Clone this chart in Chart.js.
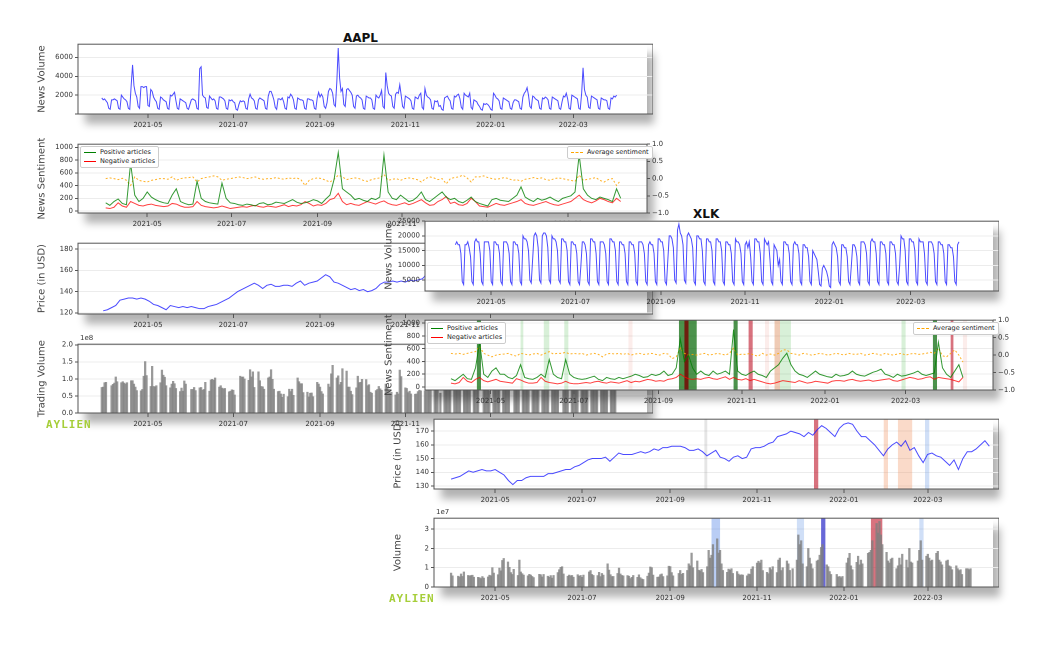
<!DOCTYPE html>
<html>
<head>
<meta charset="utf-8">
<script src="https://cdn.jsdelivr.net/npm/chart.js@4"></script>
<style>
body{margin:0;background:#fff;font-family:"DejaVu Sans",sans-serif;}
#wrap{position:relative;width:1060px;height:661px;overflow:hidden;}
.box{position:absolute;background:#fff;box-shadow:7px 10px 8px rgba(0,0,0,0.3);}
canvas{position:absolute;}
.t{position:absolute;font-weight:bold;font-size:12px;color:#111;}
.lg{position:absolute;background:#fff;border:1px solid #ccc;border-radius:2px;font-size:6.5px;color:#222;padding:1px 3px;line-height:9px;}
.lg i{display:inline-block;width:12px;height:0;border-top:1px solid;vertical-align:middle;margin-right:4px;}
.ex{position:absolute;font-size:7px;color:#333;}
.ay{position:absolute;font-family:"DejaVu Sans Mono",monospace;font-weight:bold;font-size:11px;letter-spacing:1px;color:#a6ce39;}
</style>
</head>
<body>
<div id="wrap"></div>
<script>
// day 0 = 2021-04-01
var monthTicks = [30, 91, 153, 214, 275, 334];
var monthLabels = ['2021-05', '2021-07', '2021-09', '2021-11', '2022-01', '2022-03'];

// AAPL news volume, daily, hundreds, weeks Mon..Sun from 2021-03-29
var aaplNews = [
17,15,16,14,12,6,5, 15,15,16,15,14,6,5, 20,18,16,15,13,6,5, 30,52,30,22,18,8,6,
29,29,28,29,29,9,8, 26,24,18,15,13,6,5, 18,17,15,14,13,6,5, 20,19,21,23,14,6,5,
16,15,14,13,12,6,5, 10,15,16,15,14,6,5, 48,50,20,18,17,7,6, 19,17,15,16,14,6,5,
18,18,17,16,14,6,5, 15,14,15,13,12,5,4, 10,14,13,14,13,6,5, 16,21,17,16,14,6,5,
15,17,16,15,14,6,5, 19,24,24,20,15,7,5, 16,16,15,17,13,6,5, 18,17,21,19,15,6,5,
17,16,15,15,14,6,5, 16,16,15,15,14,6,5, 17,23,18,21,18,8,6, 12,24,27,26,22,10,8,
34,70,38,24,27,10,8, 26,27,25,23,20,8,6, 19,20,18,17,15,6,5, 19,18,17,17,15,6,5,
20,18,17,20,25,8,6, 44,30,22,20,19,8,6, 21,23,22,31,20,8,6, 19,18,17,16,14,6,5,
18,17,16,20,22,7,5, 27,20,18,17,15,6,5, 14,13,14,8,9,5,4, 17,18,19,16,14,6,5,
19,18,20,21,16,7,5, 22,20,19,18,22,7,5, 15,14,13,10,8,5,4, 11,10,11,10,8,5,4,
22,20,17,16,14,6,5, 17,16,15,14,13,6,5, 12,15,15,14,13,6,5, 18,22,24,28,20,8,6,
19,18,16,15,14,6,5, 17,16,18,17,15,6,5, 18,17,16,15,14,6,5, 13,19,18,22,16,6,5,
20,19,18,17,16,6,5, 22,49,26,20,18,7,6, 19,18,17,16,15,6,5, 17,16,15,15,14,6,5,
17,16,19,18,20];

// AAPL sentiment, every 3 days from day 0
var aaplPos = [130,90,150,190,120,100,750,250,150,200, 300,220,180,150,130,120,250,350,150,120,
100,110,470,200,150,130,120,110,440,200, 130,120,100,90,110,100,80,120,130,100,
110,140,130,120,150,180,140,120,130,150, 180,160,120,190,250,500,920,350,300,250,
180,200,170,150,200,180,220,880,300,200, 180,250,200,150,170,220,300,180,150,200,
250,300,220,180,200,150,130,170,220,150, 120,100,80,180,200,170,160,150,200,250,
380,220,180,150,200,170,190,220,180,150, 200,220,240,300,880,350,250,200,180,220,
200,180,150,350,200];
var aaplNeg = [50,40,60,130,80,60,150,120,90,80, 100,110,90,80,70,80,120,110,80,60,
60,70,150,90,70,60,50,60,80,60, 40,50,60,70,60,80,90,70,60,80,
70,60,80,100,70,90,80,100,150,120, 80,100,90,120,180,200,280,150,100,120,
100,90,120,150,130,110,140,160,120,100, 90,110,130,100,120,150,180,130,90,100,
150,180,230,120,140,100,90,120,200,150, 80,70,60,90,120,100,90,110,130,150,
180,120,100,90,110,130,150,120,100,90, 110,130,150,200,250,180,150,130,160,200,
180,150,130,200,150];
var aaplAvg = [0.0,0.02,0.0,-0.03,0.01,-0.05,-0.2,0.05,-0.05,-0.08, -0.1,-0.05,-0.03,0.0,0.0,-0.02,0.05,-0.05,0.0,0.02,
0.03,0.05,-0.1,0.0,0.03,0.05,0.08,0.05,-0.05,-0.02, 0.0,0.02,0.05,0.03,0.0,0.02,0.05,0.0,-0.02,0.0,
0.0,0.03,0.0,-0.02,0.02,0.0,0.02,-0.03,-0.2,-0.05, 0.0,0.02,0.0,-0.05,-0.1,-0.02,0.1,0.05,-0.03,0.0,
0.02,0.0,-0.05,-0.08,-0.03,0.0,0.02,0.12,-0.05,-0.02, 0.0,-0.05,0.0,0.02,0.0,-0.03,-0.1,0.0,0.05,0.02,
-0.03,0.0,-0.15,0.0,0.03,0.05,0.1,0.02,-0.1,0.05, 0.05,0.08,0.03,0.0,-0.02,0.0,0.03,0.0,-0.05,-0.03,
-0.08,-0.02,0.0,0.03,0.0,0.02,-0.03,-0.05,0.0,0.02, 0.0,-0.03,-0.05,-0.08,0.1,-0.05,-0.02,0.0,0.03,-0.05,
-0.1,-0.03,0.0,-0.2,-0.05];

// AAPL close price, every 3 days from day -2
var aaplPrice = [122,123,125,127,132,133,134,134,133,134, 133,131,128,127,125,123,127,126,125,126,
125,126,125,124,124,126,127,128,130,132, 134,137,140,142,144,146,148,146,143,146,
147,145,145,146,146,145,148,150,146,148, 149,150,153,156,154,149,148,146,144,142,
143,141,142,140,141,143,147,149,149,150, 149,150,149,151,150,151,152,156,160,163,
165,161,165,171,175,178,174,172,175,177, 178,178,179,176,172,172,167,164,163,160,
162,165,173,172,175,172,169,164,160,164, 163,161,157,159,155,152,155,160,163,168,
171,174,176,178,172];

// AAPL trading volume, weekdays Mon..Fri from 2021-03-29, units of 1e7
var aaplVol = [
7.5,7.6,8.9,9.0,0, 8.0,8.4,8.8,10.6,9.2, 8.9,9.2,8.8,8.5,8.9, 9.5,9.5,8.5,7.6,6.6,
6.5,6.9,10.8,15.1,11.0, 7.8,13.7,7.8,7.7,8.0, 8.9,12.6,11.1,10.5,8.0, 7.4,8.5,9.3,8.6,7.2,
6.3,7.3,6.4,9.4,8.5, 0,6.9,6.9,7.5,6.6, 7.4,7.5,6.7,6.9,9.0, 6.4,9.7,9.9,9.6,10.3,
7.6,8.0,7.3,7.1,7.2, 6.2,6.4,6.8,6.7,5.3, 0,10.8,10.5,10.6,10.0, 9.6,12.7,10.6,12.1,7.5,
12.1,9.5,7.8,7.7,7.0, 10.3,10.6,12.7,9.9,7.0, 6.3,6.4,5.6,4.6,5.5, 4.8,7.0,6.3,7.0,5.2,
10.3,9.2,8.6,8.6,6.0, 6.1,4.7,5.8,5.9,4.8, 9.0,8.5,7.6,6.3,5.6, 0,8.5,7.6,11.5,14.0,
10.3,10.9,8.3,9.0,13.0, 12.3,7.6,7.6,6.4,5.4, 7.4,10.8,8.9,9.0,9.9, 9.8,8.0,8.3,6.1,5.8,
6.6,6.9,7.8,7.1,6.7, 8.5,7.6,6.7,5.8,6.1, 5.3,6.1,5.6,12.6,10.7, 7.4,7.2,6.0,6.4,5.6,
5.5,5.6,6.3,6.7,6.5, 6.5,6.9,8.8,9.1,10.6, 8.9,9.3,8.5,0,5.8, 10.8,15.0,10.8,11.9,12.0,
12.3,11.5,11.7,9.6,11.5, 15.3,13.9,13.1,13.1,19.5, 10.8,9.2,7.4,7.9,0, 8.9,10.7,7.2,8.1,6.5,
10.4,9.9,9.4,9.6,8.6, 10.7,9.1,9.5,8.4,8.0, 0,8.6,9.1,9.6,10.6, 12.2,9.6,10.8,12.1,11.5,
10.8,8.6,8.2,8.9,8.0, 7.3,7.7,7.4,7.2,9.0, 8.6,8.1,6.9,8.2,8.6, 0,9.1,9.0,14.2,9.0,
9.5,10.0,9.0,8.8,8.6, 9.6,13.1,9.1,8.9,11.6, 10.9,9.0,8.5,7.6,11.9, 9.5,8.1,9.1,7.1,9.0,
7.5,8.6,8.7,9.6];

// XLK news volume, daily, thousands, weeks Mon..Sun from 2021-04-05
var xlkNews = [
17,18,17,17,14,4.5,3.5, 17,17,18,16,13,4.5,3.5, 18,19,18,18,14,4.5,3.5, 18,18,18,18,15,4.5,3.5,
18,18,17,17,14,4.5,3.5, 18,18,18,17,14,4.5,3.5, 18,18,17,17,14,4.5,3.5, 20,19,19,18,15,5,4,
12,20,21,20,16,5,4, 20,21,21,20,16,5,4, 20,19,19,18,15,5,4, 19,19,18,18,15,4.5,3.5,
18,18,17,17,14,4.5,3.5, 10,18,18,17,14,4.5,3.5, 19,19,18,18,14,4.5,3.5, 18,18,18,17,14,4.5,3.5,
19,19,18,18,15,4.5,3.5, 18,18,17,17,14,4.5,3.5, 18,18,17,17,14,4.5,3.5, 18,18,18,17,14,4.5,3.5,
17,18,17,17,14,4.5,3.5, 19,19,18,18,15,4.5,3.5, 12,20,20,19,16,5,4, 22,24,21,20,17,5,4,
20,21,20,19,16,4.5,3.5, 20,20,19,19,15,4.5,3.5, 19,19,18,18,15,4.5,3.5, 19,19,18,18,15,4.5,3.5,
18,18,17,17,14,4.5,3.5, 19,18,18,17,14,4.5,3.5, 17,18,16,18,13,4.5,3.5, 19,19,18,18,14,4.5,3.5,
19,18,17,18,12,4.5,3.5, 17,16,15,10,12,4.5,3.5, 18,18,17,17,14,4.5,3.5, 17,18,17,17,14,4.5,3.5,
17,17,16,16,13,4.5,3.5, 15,14,13,12,8,3.5,3, 9,10,9,8,6,3,2.5, 17,18,17,16,13,4.5,3.5,
17,17,16,16,13,4.5,3.5, 10,17,17,16,13,4.5,3.5, 18,18,18,17,14,4.5,3.5, 18,19,18,18,14,4.5,3.5,
18,18,17,17,14,4.5,3.5, 18,18,17,17,14,4.5,3.5, 10,20,19,19,15,4.5,3.5, 19,19,18,18,15,4.5,3.5,
19,18,18,18,14,4.5,3.5, 18,18,18,17,14,4.5,3.5, 18,18,17,17,14,4.5,3.5, 17,17,16,16,13,4.5,3.5,
17,18];

// XLK sentiment, every 3 days from day 1
var xlkPos = [130,100,150,200,130,120,300,700,200,150, 250,300,200,200,150,130,180,350,150,130,
120,150,200,150,430,200,150,130,430,200, 150,130,120,130,150,170,120,100,150,130,
120,150,130,150,170,200,180,150,160,200, 180,200,250,180,200,300,750,400,500,300,
200,250,200,180,250,200,220,250,200,900, 250,200,180,220,250,200,180,150,250,300,
350,450,530,350,250,200,180,150,200,250, 200,180,160,150,200,170,180,200,250,200,
180,170,200,230,250,280,200,180,150,200, 170,180,200,220,250,200,180,200,220,700,
300,200,150,250,350,150];
var xlkNeg = [60,50,70,150,90,70,120,150,100,80, 100,120,90,80,70,60,130,110,80,60,
60,70,150,90,70,60,50,60,90,60, 50,50,60,70,60,80,90,70,60,80,
70,60,80,100,70,90,80,100,120,110, 90,100,90,120,130,150,200,160,130,120,
130,120,140,150,130,120,140,160,120,150, 120,110,130,100,120,100,80,60,50,60,
80,100,90,80,70,100,80,60,70,90, 80,70,60,90,100,100,90,110,120,100,
90,100,110,90,100,110,120,130,100,90, 110,130,150,140,120,130,150,160,120,150,
140,130,120,100,80,150];
var xlkAvg = [0.05,0.03,0.05,0.02,0.05,0.08,0.1,0.25,0.05,0.0, -0.05,0.0,0.02,0.03,0.05,0.0,-0.03,0.05,0.03,0.0,
0.03,0.05,0.0,0.05,0.1,0.03,0.05,0.05,0.08,0.03, 0.05,0.03,0.05,0.0,0.03,0.05,0.02,-0.05,0.03,0.05,
0.03,0.05,0.02,0.05,0.0,0.03,0.05,0.02,0.03,0.05, 0.02,0.0,0.05,0.03,-0.1,-0.05,0.2,0.05,0.0,0.02,
0.0,0.03,0.05,0.0,0.02,0.05,0.03,0.0,0.05,0.2, 0.0,0.03,0.02,0.05,0.0,-0.03,0.05,0.0,0.03,0.0,
0.05,0.15,0.15,0.05,0.03,0.0,0.05,0.03,0.0,0.02, 0.05,0.03,0.0,0.02,0.05,0.03,0.0,0.05,0.03,0.02,
0.05,0.0,0.02,0.05,0.03,0.0,0.05,0.02,0.0,0.03, 0.05,0.0,0.03,0.05,0.02,0.03,0.05,0.08,0.05,0.2,
-0.02,-0.05,0.05,0.15,0.0,-0.2];

// XLK close price, every ~3 days from day -1
var xlkPrice = [135,136,137,139,141,140,141,142,141,141, 142,140,138,134,131,134,134,136,137,137,
137,137,139,139,140,141,142,142,144,145, 147,149,150,150,150,151,148,151,154,153,
153,153,154,155,154,155,157,156,158,158, 159,159,159,158,156,156,157,155,152,154,
156,151,150,148,151,152,150,151,157,158, 158,159,161,162,166,167,168,170,169,168,
166,169,167,171,174,172,169,166,172,175, 176,175,170,166,166,163,160,156,152,157,
160,162,159,163,156,158,152,147,153,154, 152,151,148,145,149,142,150,155,155,157,
160,163,159];

// XLK volume, weekdays Mon..Fri from 2021-03-29, units of 1e6
var xlkVol = [
0,0,7.2,5.8,0, 5.6,5.2,6.8,5.5,7.8, 6.0,5.8,5.9,6.1,5.1, 5.0,4.8,4.4,5.4,4.6,
5.2,6.1,5.8,10.0,7.2, 6.4,9.8,8.4,13.8,14.8, 13.0,10.2,7.5,6.5,9.2, 6.0,14.0,7.8,6.9,6.2,
5.8,6.6,6.2,5.5,4.9, 0,6.6,6.4,5.2,6.5, 5.6,5.1,5.9,4.6,6.0, 7.5,9.0,10.2,10.5,6.8,
5.6,6.2,5.8,6.0,5.1, 6.4,5.6,6.0,5.0,6.2, 0,7.8,8.5,6.5,6.0, 5.9,7.6,5.4,7.0,6.2,
12.0,8.8,6.4,5.4,5.5, 7.0,9.8,6.8,6.0,5.8, 5.9,5.6,4.4,5.0,6.0, 5.0,6.3,4.8,4.2,3.9,
5.6,7.2,10.4,10.0,6.2, 5.1,5.2,6.4,6.8,5.4, 5.8,10.8,10.6,7.5,5.8, 0,7.0,8.6,6.6,7.1,
8.6,12.0,11.0,17.6,10.0, 13.5,8.7,8.4,9.1,7.5, 10.5,19.0,15.0,16.5,22.0, 25.0,17.6,19.0,12.0,8.6,
7.6,9.3,8.8,9.5,7.0, 8.0,6.7,6.0,6.4,6.2, 5.8,6.8,6.5,9.3,10.5, 12.4,13.4,12.5,14.0,8.5,
7.6,6.9,10.0,9.0,10.5, 7.5,14.0,15.0,8.5,10.0, 13.5,12.0,8.6,0,9.5, 14.0,27.0,22.0,24.0,12.0,
10.5,20.0,15.0,12.0,9.5, 13.5,14.0,16.5,20.5,22.0, 11.5,10.5,8.0,6.5,0, 6.5,5.2,5.5,4.8,5.5,
12.5,15.0,17.5,11.0,9.0, 12.8,16.0,11.5,14.0,12.0, 0,17.5,18.0,19.0,24.0, 33.0,28.0,34.0,27.0,22.0,
18.0,13.5,12.5,14.5,15.0, 9.5,11.0,15.0,11.5,17.0, 14.0,10.0,20.0,13.0,12.5, 0,13.5,19.0,24.0,14.0,
16.0,17.0,15.0,13.5,14.0, 17.5,18.5,14.0,13.0,11.5, 13.5,14.0,11.0,10.5,9.0, 11.0,9.5,8.5,9.0,6.5,
9.5,9.5,9.0,9.5];

// highlighted event windows [startDay, endDay, kind]
var xlkSentBands = [[20,23,'dg'],[52,54,'lg'],[69,73,'lg'],[84,87,'lg'],[131,134,'lr'],
  [168,181,'dg'],[172,175,'dr'],[208,211,'dg'],[219,222,'r'],[231,234,'lr'],[238,242,'o'],
  [242,250,'lg'],[331,334,'lg'],[354,357,'dg'],[367,369,'r'],[376,379,'lr']];
var xlkPriceBands = [[177,179,'gr'],[254,257,'r'],[303,306,'lo'],[313,323,'lo'],[332,335,'lb']];
var xlkVolBands = [[182,188,'b'],[242,247,'lb'],[259,262,'db'],[294,302,'r'],[328,331,'lb']];

var bandColors = {
  dg: 'rgba(0,100,0,0.7)', lg: 'rgba(40,170,40,0.18)', dr: 'rgba(120,0,0,0.8)',
  r: 'rgba(190,20,40,0.6)', lr: 'rgba(230,110,90,0.12)', o: 'rgba(220,140,90,0.45)',
  lo: 'rgba(240,150,100,0.35)', gr: 'rgba(150,150,150,0.25)', b: 'rgba(80,130,230,0.4)',
  db: 'rgba(40,40,200,0.7)', lb: 'rgba(100,150,230,0.3)'
};

function pts(start, step, vals, k) {
  return vals.map(function (v, i) { return { x: start + i * step, y: v * k }; });
}
function weekdayPts(startMon, vals, k) {
  return vals.map(function (v, i) { return { x: startMon + Math.floor(i / 5) * 7 + i % 5, y: v * k }; });
}

Chart.defaults.font.family = '"DejaVu Sans", sans-serif';
Chart.defaults.color = '#333';
Chart.defaults.animation = false;

var panelPlugin = {
  id: 'panel',
  beforeDatasetsDraw: function (chart, args, opts) {
    var ctx = chart.ctx, a = chart.chartArea, xs = chart.scales.x;
    (opts.bands || []).forEach(function (b) {
      var x1 = xs.getPixelForValue(b[0]), x2 = xs.getPixelForValue(b[1]);
      ctx.fillStyle = bandColors[b[2]];
      ctx.fillRect(x1, a.top, x2 - x1, a.bottom - a.top);
    });
  },
  afterDraw: function (chart) {
    var ctx = chart.ctx, a = chart.chartArea;
    ctx.save();
    ctx.strokeStyle = '#555';
    ctx.lineWidth = 1;
    ctx.strokeRect(a.left, a.top, a.right - a.left, a.bottom - a.top);
    ctx.restore();
  }
};

var wrap = document.getElementById('wrap');

function panel(p) {
  var bx = p.box[0], by = p.box[1], bw = p.box[2], bh = p.box[3];
  var rightW = p.y2 ? 28 : 6;
  var box = document.createElement('div');
  box.className = 'box';
  box.style.cssText = 'left:' + bx + 'px;top:' + by + 'px;width:' + bw + 'px;height:' + bh + 'px;';
  wrap.appendChild(box);
  var c = document.createElement('canvas');
  var cw = 42 + bw + rightW, ch = 6 + bh + 20;
  c.width = cw; c.height = ch;
  c.style.cssText = 'left:' + (bx - 42) + 'px;top:' + (by - 6) + 'px;width:' + cw + 'px;height:' + ch + 'px;';
  wrap.appendChild(c);

  var scales = {
    x: {
      type: 'linear', min: p.xMin, max: p.xMax, offset: false,
      afterBuildTicks: function (s) { s.ticks = monthTicks.map(function (v) { return { value: v }; }); },
      afterFit: function (s) { s.height = 20; },
      ticks: { font: { size: 7 }, maxRotation: 0, autoSkip: false,
        callback: function (v) { return monthLabels[monthTicks.indexOf(v)]; } },
      grid: { drawOnChartArea: false, tickLength: 4, color: '#555', offset: false },
      border: { display: false }
    },
    y: {
      min: p.y.min, max: p.y.max,
      afterFit: function (s) { s.width = 42; },
      afterBuildTicks: function (s) { s.ticks = p.y.ticks.map(function (v) { return { value: v }; }); },
      ticks: { font: { size: 7 }, padding: 2, callback: p.y.fmt },
      title: { display: true, text: p.y.title, font: { size: 10 }, color: '#444', padding: 0 },
      grid: { color: '#ececec', tickColor: '#555', tickLength: 3 },
      border: { display: false }
    }
  };
  if (p.y2) {
    scales.y2 = {
      position: 'right', min: -1, max: 1,
      afterFit: function (s) { s.width = 28; },
      afterBuildTicks: function (s) { s.ticks = [-1, -0.5, 0, 0.5, 1].map(function (v) { return { value: v }; }); },
      ticks: { font: { size: 7 }, padding: 2, callback: function (v) { return v.toFixed(1).replace('-', '\u2212'); } },
      grid: { drawOnChartArea: false, tickLength: 3, color: '#555' },
      border: { display: false }
    };
  }
  new Chart(c, {
    type: p.type || 'line',
    data: { datasets: p.datasets },
    options: {
      responsive: false,
      devicePixelRatio: 2,
      layout: { padding: { top: 6, left: 0, right: 0, bottom: 0 } },
      plugins: { legend: { display: false }, tooltip: { enabled: false }, panel: { bands: p.bands || [] } },
      elements: { point: { radius: 0 }, line: { tension: 0 } },
      scales: scales
    },
    plugins: [panelPlugin]
  });
}

function line(data, color, w, dash, axis) {
  return { type: 'line', data: data, borderColor: color, borderWidth: w || 1, borderDash: dash || [],
    pointRadius: 0, yAxisID: axis || 'y' };
}
function bars(data) {
  return { type: 'bar', data: data, backgroundColor: 'rgba(128,128,128,0.8)', barThickness: 1.6 };
}
function hideZero(v) { return v === 0 ? '' : v; }
function add(cls, txt, x, y, extra) {
  var d = document.createElement('div');
  d.className = cls; d.innerHTML = txt;
  d.style.cssText = 'left:' + x + 'px;top:' + y + 'px;' + (extra || '');
  wrap.appendChild(d);
}

var blue = 'rgba(30,30,255,0.8)', green = 'rgba(0,128,0,0.8)', red = 'rgba(255,0,0,0.75)', orange = 'rgba(255,165,0,0.85)';

// ---- AAPL ----
add('t', 'AAPL', 343, 31);
panel({ box: [78, 44, 569, 70], xMin: -20, xMax: 391,
  y: { min: 0, max: 7400, ticks: [0, 2000, 4000, 6000], title: 'News Volume', fmt: hideZero },
  datasets: [line(pts(-3, 1, aaplNews, 100), blue)] });
panel({ box: [78, 144, 569, 69], xMin: -20, xMax: 391, y2: true,
  y: { min: -30, max: 1050, ticks: [0, 200, 400, 600, 800, 1000], title: 'News Sentiment' },
  datasets: [line(pts(0, 3, aaplPos, 1), green), line(pts(0, 3, aaplNeg, 1), red),
    line(pts(0, 3, aaplAvg, 1), orange, 1, [2, 2], 'y2')] });
add('lg', '<i style="color:green"></i>Positive articles<br><i style="color:red"></i>Negative articles', 80, 146);
add('lg', '<i style="color:orange;border-top-style:dashed"></i>Average sentiment', 567, 146);
panel({ box: [78, 243, 569, 71], xMin: -20, xMax: 391,
  y: { min: 119, max: 185.6, ticks: [120, 140, 160, 180], title: 'Price (in USD)' },
  datasets: [line(pts(-2, 3, aaplPrice, 1), blue)] });
panel({ box: [78, 344, 569, 69], xMin: -20, xMax: 391, type: 'bar',
  y: { min: 0, max: 2.02e8, ticks: [0, 0.5e8, 1e8, 1.5e8, 2e8], title: 'Trading Volume',
    fmt: function (v) { return (v / 1e8).toFixed(1); } },
  datasets: [bars(weekdayPts(-3, aaplVol, 1e7))] });
add('ex', '1e8', 80, 334);
add('ay', 'AYLIEN', 46, 418);

// ---- XLK ----
add('t', 'XLK', 693, 207);
panel({ box: [425, 221, 568, 70], xMin: -18, xMax: 398,
  y: { min: 1300, max: 25000, ticks: [5000, 10000, 15000, 20000, 25000], title: 'News Volume' },
  datasets: [line(pts(4, 1, xlkNews, 1000), blue)] });
panel({ box: [425, 320, 568, 70], xMin: -18, xMax: 398, y2: true, bands: xlkSentBands,
  y: { min: -47, max: 1047, ticks: [0, 200, 400, 600, 800, 1000], title: 'News Sentiment' },
  datasets: [line(pts(1, 3, xlkPos, 1), green), line(pts(1, 3, xlkNeg, 1), red),
    line(pts(1, 3, xlkAvg, 1), orange, 1, [2, 2], 'y2')] });
add('lg', '<i style="color:green"></i>Positive articles<br><i style="color:red"></i>Negative articles', 427, 322);
add('lg', '<i style="color:orange;border-top-style:dashed"></i>Average sentiment', 913, 322);
panel({ box: [434, 419, 559, 70], xMin: -13, xMax: 384, bands: xlkPriceBands,
  y: { min: 127.8, max: 178.7, ticks: [130, 140, 150, 160, 170], title: 'Price (in USD)' },
  datasets: [line(pts(-1, 3.1, xlkPrice, 1), blue)] });
panel({ box: [434, 518, 559, 69], xMin: -13, xMax: 384, type: 'bar', bands: xlkVolBands,
  y: { min: 0, max: 3.57e7, ticks: [0, 1e7, 2e7, 3e7], title: 'Volume',
    fmt: function (v) { return v / 1e7; } },
  datasets: [bars(weekdayPts(-3, xlkVol, 1e6))] });
add('ex', '1e7', 436, 508);
add('ay', 'AYLIEN', 389, 592);
</script>
</body>
</html>
